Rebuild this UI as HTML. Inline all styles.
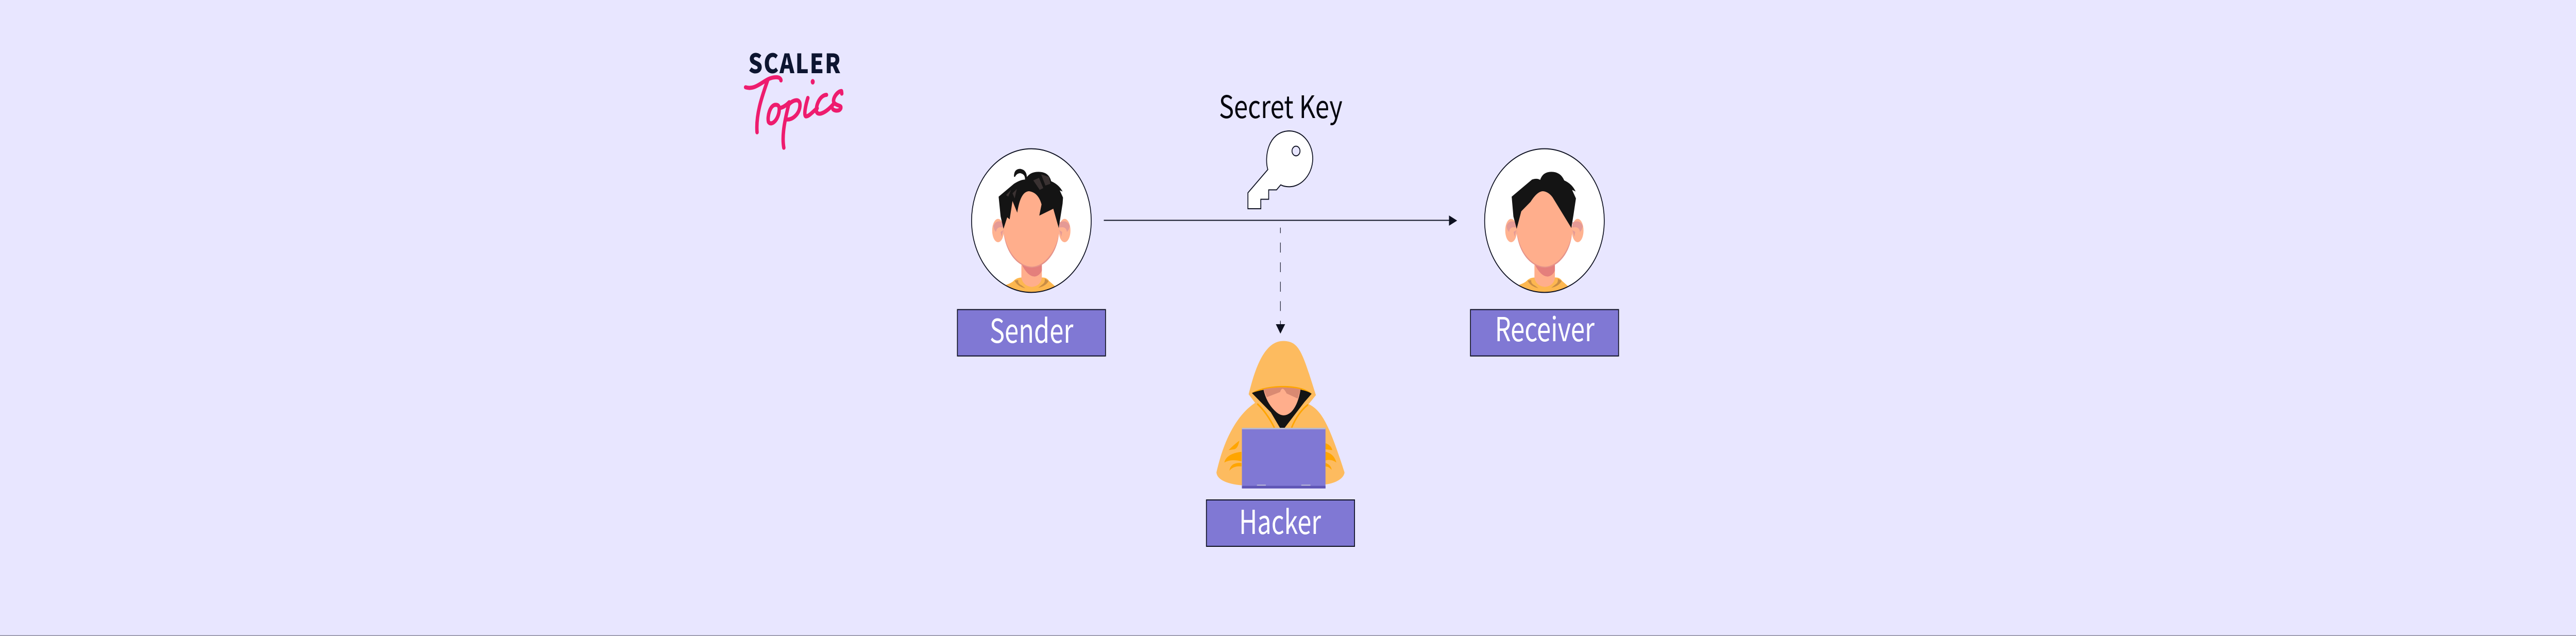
<!DOCTYPE html>
<html><head><meta charset="utf-8"><style>
html,body{margin:0;padding:0;width:100%;height:100%;overflow:hidden;background:#E8E6FF}
svg{display:block;width:100%;height:100%}
text{font-family:"Noto Sans CJK JP","Liberation Sans",sans-serif}
</style></head><body>
<svg xmlns="http://www.w3.org/2000/svg" viewBox="0 0 6000 1234" preserveAspectRatio="none">
<defs>
<clipPath id="c"><circle cx="667" cy="534" r="416"/></clipPath>
<g id="body">
 <circle cx="667" cy="534" r="418" fill="#fff"/>
 <g clip-path="url(#c)">
  <path d="M490 908Q535 895 548 880Q570 865 600 865L745 865Q775 865 790 885L835 918L800 960L520 960Z" fill="#FDB750"/>
  <path d="M550 883Q565 915 625 928L600 912Q570 900 575 880Z" fill="#C98D45"/>
  <path d="M787 885Q770 915 715 925L745 905Q765 895 760 872Z" fill="#C98D45"/>
  <path d="M597 780L597 868Q610 915 670 920Q730 915 740 868L740 780Z" fill="#FFAE8C"/>
  <path d="M597 785Q640 860 690 860Q725 855 740 825L740 775Z" fill="#E47F7C"/>
 </g>
 <ellipse cx="434" cy="592" rx="41" ry="68" fill="#FFB290"/>
 <ellipse cx="899" cy="592" rx="41" ry="68" fill="#FFB290"/>
 <path d="M470 545Q420 525 402 565Q405 590 420 600Q425 565 470 575ZM470 590L452 600L458 628Z" fill="#E59A95"/>
 <path d="M862 545Q915 525 935 565Q930 590 915 600Q910 565 862 575ZM862 590L882 600L876 628Z" fill="#E59A95"/>
 <path d="M470 560C475 420 570 362 645 362C770 365 865 450 860 600C855 700 780 806 670 808C565 806 470 710 470 560Z" fill="#E5938A"/>
 <path d="M470 560C475 420 570 362 645 362C770 365 865 450 860 600C850 690 770 800 670 802C570 800 475 700 470 560Z" fill="#FFAE8C"/>
</g>
</defs>
<rect width="6000" height="1234" fill="#E8E6FF"/>
<rect y="1232.5" width="6000" height="1.5" fill="#8A8A9C"/>

<!-- logo -->
<text x="1743" y="142" font-size="52" font-weight="900" fill="#0D1530" textLength="215" lengthAdjust="spacing">SCALER</text>
<g transform="translate(1650 60) scale(.33333)" fill="none" stroke="#EE1C6E" stroke-width="24" stroke-linecap="round" stroke-linejoin="round">
 <path d="M260 328C320 345 370 300 420 280C460 265 505 265 507 288"/>
 <path d="M415 285C380 370 330 480 340 590"/>
 <path d="M470 430C430 430 410 500 420 530C440 555 490 520 495 460C497 430 480 430 470 430M495 450Q530 445 565 415"/>
 <path d="M565 415C540 500 510 600 527 680M560 430C590 400 640 390 640 430C640 480 590 520 545 515"/>
 <path d="M695 390C680 430 665 490 680 497C700 500 730 470 760 450"/>
 <path d="M825 372C780 375 750 430 755 470C770 500 830 470 880 420"/>
 <path d="M932 365L930 350C900 350 860 400 880 420C905 440 930 430 925 450C915 470 880 465 870 455"/>
 <ellipse cx="729" cy="296" rx="7" ry="9" fill="#EE1C6E" stroke-width="14"/>
</g>

<!-- sender -->
<g transform="translate(2180 250) scale(.33333)">
 <use href="#body"/>
 <path d="M438 395L545 320Q590 295 625 295Q650 250 715 250Q790 250 805 305Q860 325 885 365L865 358L888 400L885 435L858 577L820 465L722 505L738 440Q715 370 650 363Q590 365 568 488L535 420L515 527L498 515L472 582L452 510Z" fill="#141414"/>
 <path d="M545 278Q545 232 590 233Q640 240 635 295L622 295Q625 265 590 258Q565 258 552 280Z" fill="#141414"/>
 <path d="M490 385L525 355L505 395ZM535 375L565 350L550 405ZM680 300L720 285L750 345L725 355ZM735 265L790 280L800 320L765 330Z" fill="#3A3232"/>
 <circle cx="667" cy="534" r="418" fill="none" stroke="#0D1020" stroke-width="6"/>
 <rect x="150" y="1052" width="1035" height="270" fill="#8078D4" stroke="#0D1020" stroke-width="6"/>
</g>
<text x="2305" y="665" font-size="64" fill="#fff" textLength="195" lengthAdjust="spacingAndGlyphs">Sender</text>

<!-- receiver -->
<g transform="translate(3380 250) scale(.33333)">
 <use href="#body" transform="translate(-15 0)"/>
 <path d="M423 395L565 295Q600 285 622 297Q640 250 700 250Q765 250 790 300Q845 320 870 365L845 355L872 405L855 500L840 577L710 400Q680 365 640 363Q600 365 555 425L490 480L458 582L435 510Z" fill="#141414"/>
 <circle cx="652" cy="534" r="418" fill="none" stroke="#0D1020" stroke-width="6"/>
 <rect x="135" y="1052" width="1035" height="270" fill="#8078D4" stroke="#0D1020" stroke-width="6"/>
</g>
<text x="3482" y="662" font-size="64" fill="#fff" textLength="232" lengthAdjust="spacingAndGlyphs">Receiver</text>

<!-- secret key -->
<text x="2839" y="229" font-size="60" fill="#05060F" textLength="288" lengthAdjust="spacingAndGlyphs">Secret Key</text>
<g transform="translate(2780 160) scale(.33333)">
 <path d="M519 507C495 440 515 285 670 282C770 285 833 360 833 445C830 540 750 607 670 607C645 607 625 603 609 596L580 625L525 625L525 680L470 680L470 735L380 735L380 642Z" fill="#fff" stroke="#0D1020" stroke-width="6" stroke-linejoin="miter"/>
 <circle cx="716" cy="399" r="28" fill="#E8E6FF" stroke="#0D1020" stroke-width="6"/>
 <path d="M0 803H1260" stroke="#0D1020" stroke-width="5"/>
 <path d="M607 845V877M607 932V990M607 1047V1104M607 1160V1218M607 1273V1330M607 1387V1410" stroke="#0D1020" stroke-width="4" fill="none"/>
 <path d="M575 1407H640L607 1462Z" fill="#0D1020"/>
</g>

<!-- arrow -->
<rect x="2571" y="426.5" width="810" height="2" fill="#0D1020"/>
<path d="M3375 418L3394 428L3375 438Z" fill="#0D1020"/>

<!-- hacker -->
<g transform="translate(2760 640) scale(.33333)">
 <path d="M220 830C250 720 320 520 490 425L445 375C470 300 530 65 685 65C800 65 820 130 915 380L865 432C950 470 1000 530 1115 830C1110 870 1040 895 980 900L400 905C320 900 225 880 220 830Z" fill="#FDBB5F"/>
 <path d="M468 368C540 320 810 305 885 372L835 420L695 572L665 572L600 480Z" fill="#FFA500"/>
 <path d="M468 368C550 335 810 325 885 372L835 420L695 572L665 572L600 480Z" fill="#141414"/>
 <path d="M548 345Q680 325 808 345Q790 440 740 480Q690 515 640 480Q570 430 548 345Z" fill="#FFAE8C"/>
 <path d="M548 345Q680 325 808 345L788 400L710 370Q680 320 665 362L572 392Z" fill="#D98A72"/>
 <path d="M505 430Q570 480 625 570M860 435Q790 480 745 570" fill="none" stroke="#FFA500" stroke-width="10"/>
 <path d="M305 700Q340 670 380 645Q370 690 345 695ZM275 772Q290 720 395 710L395 765Q320 750 275 772ZM310 820Q320 770 395 775L395 795Q340 790 310 820Z" fill="#FFA500"/>
 <path d="M982 660Q1020 670 1030 700L982 695ZM982 710Q1040 720 1058 772Q1020 750 982 760ZM982 775Q1020 785 1025 815Q1005 795 982 795Z" fill="#FFA500"/>
 <rect x="398" y="570" width="584" height="353" fill="#8078D4"/>
 <rect x="398" y="570" width="584" height="9" fill="#B8B8CC"/>
 <rect x="398" y="908" width="584" height="15" fill="#5F55B5"/>
 <path d="M503 904H565M813 904H877" stroke="#C8C8D8" stroke-width="5"/>
 <rect x="150" y="990" width="1035" height="270" fill="#8078D4" stroke="#0D1020" stroke-width="6"/>
</g>
<text x="2886" y="1036" font-size="64" fill="#fff" textLength="191" lengthAdjust="spacingAndGlyphs">Hacker</text>
</svg>
</body></html>
